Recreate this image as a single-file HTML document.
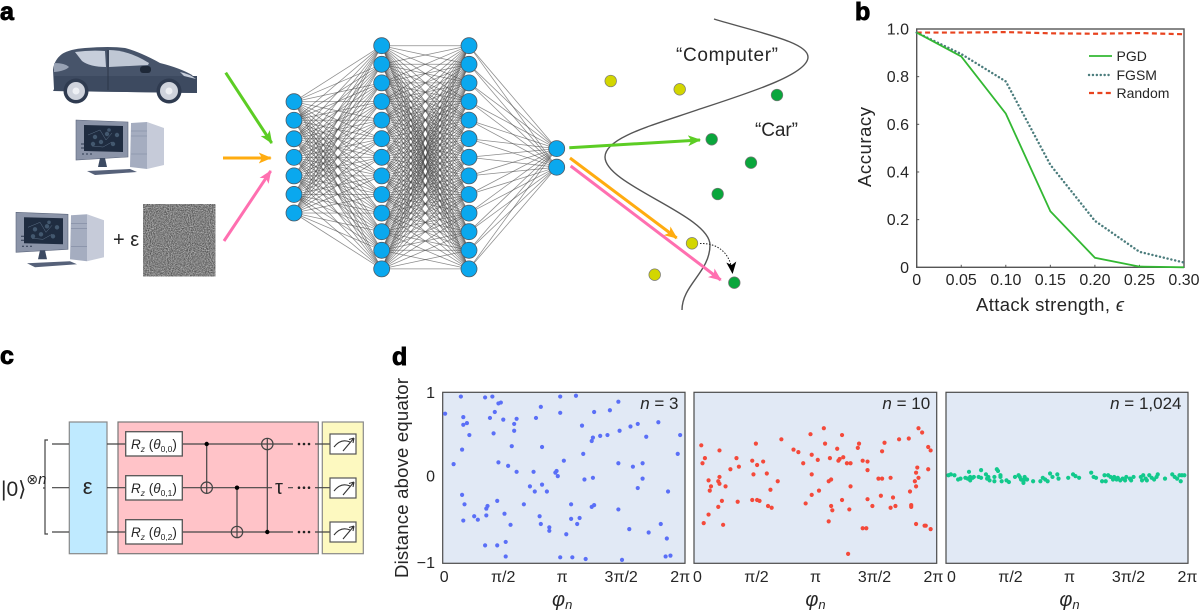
<!DOCTYPE html>
<html lang="en">
<head>
<meta charset="utf-8">
<title>Adversarial attacks on classical and quantum classifiers</title>
<style>
html,body{margin:0;padding:0;background:#fff;width:1200px;height:612px;overflow:hidden}
svg{display:block}
text{font-family:"Liberation Sans",sans-serif;fill:#262626}
.lab{font-weight:bold;font-size:25px;fill:#000;stroke:#000;stroke-width:.9px}
.tick{font-size:16px}
.axis{font-size:18.5px}
</style>
</head>
<body>
<svg id="fig" xmlns="http://www.w3.org/2000/svg" width="1200" height="612" viewBox="0 0 1200 612">
<defs>
<filter id="noise" x="0" y="0" width="1" height="1" color-interpolation-filters="sRGB">
<feTurbulence type="fractalNoise" baseFrequency="0.95" numOctaves="3" seed="3"/>
<feColorMatrix type="matrix" values="0.75 0 0 0 .13 0.75 0 0 0 .13 0.75 0 0 0 .13 0 0 0 0 1"/>
<feGaussianBlur stdDeviation="0.35"/>
</filter>
<marker id="ah-green" markerUnits="userSpaceOnUse" viewBox="0 0 12 10" refX="11" refY="5" markerWidth="13" markerHeight="11" orient="auto"><path d="M0 0L12 5L0 10L3 5Z" fill="#5ccd24"/></marker>
<marker id="ah-orange" markerUnits="userSpaceOnUse" viewBox="0 0 12 10" refX="11" refY="5" markerWidth="13" markerHeight="11" orient="auto"><path d="M0 0L12 5L0 10L3 5Z" fill="#ffac10"/></marker>
<marker id="ah-pink" markerUnits="userSpaceOnUse" viewBox="0 0 12 10" refX="11" refY="5" markerWidth="13" markerHeight="11" orient="auto"><path d="M0 0L12 5L0 10L3 5Z" fill="#ff6fb0"/></marker>
<marker id="ah-black" markerUnits="userSpaceOnUse" viewBox="0 0 12 10" refX="11" refY="5" markerWidth="12" markerHeight="10" orient="auto"><path d="M0 0L12 5L0 10L3 5Z" fill="#000"/></marker>
<g id="computer">
<polygon points="76,120 128,122 128,157 76,160" fill="#8b94a8" stroke="#5c667c" stroke-width=".6"/>
<polygon points="84,125 123,126 123,152 84,151" fill="#1f2c40"/>
<g fill="#43586f"><circle cx="95" cy="137" r="2.2"/><circle cx="101" cy="142" r="2.2"/><circle cx="107" cy="134" r="2.2"/><circle cx="113" cy="144" r="2.2"/><circle cx="117" cy="135" r="2.2"/><circle cx="93" cy="144" r="2.2"/><circle cx="109" cy="130" r="1.8"/></g>
<path d="M88 135L100 130L106 140L112 133M92 146L103 147L112 142" fill="none" stroke="#5d7188" stroke-width=".5"/>
<path d="M81 144h3M81 148h3M82 154h2M86 154h2M90 154h2" stroke="#2e3a50" stroke-width="1"/>
<polygon points="100,158 105,158 107,167 98,167" fill="#3c4a62"/>
<polygon points="87,171 130,169 137,172 95,175" fill="#566179"/>
<polygon points="131,123 147,122 147,169 130,167" fill="#a5adc0"/>
<polygon points="147,122 164,128 164,165 147,169" fill="#c6cbd9"/>
<path d="M131 131h16M131 136h16M131 154h16" stroke="#7f88a0" stroke-width=".6"/>
</g>
<g id="meter">
<rect x="0" y="0" width="26" height="20" fill="#fff" stroke="#555" stroke-width="1.2"/>
<path d="M4 13Q11 4 20 8" fill="none" stroke="#333" stroke-width="1.1"/>
<path d="M13 17L24 4M24 4l-5 1.5M24 4l-1 5" fill="none" stroke="#333" stroke-width="1.1"/>
</g>
</defs>

<text class="lab" x="0" y="20">a</text>
<text class="lab" x="855" y="20">b</text>
<text class="lab" x="0" y="364">c</text>
<text class="lab" x="392" y="365">d</text>

<g>
<path d="M54 89L53 70Q54 60 62 54Q70 49 85 48Q110 46 125 48Q140 52 160 63Q180 68 192 75Q197 80 197 93L53 91Z" fill="#47546a"/>
<path d="M54 76L197 76V93L54 91Z" fill="#3d4a60"/>
<path d="M75 52Q90 50 105 51L106 67Q90 67 82 61Z" fill="#c7cedb"/>
<path d="M109 50Q128 50 149 63L148 65L109 67Z" fill="#bfc7d4"/>
<path d="M54 63Q65 63 69 67Q65 71 54 72Z" fill="#98a2b4"/>
<rect x="140" y="66" width="11" height="7" rx="3" fill="#1e2838"/>
<path d="M180 72Q190 74 196 79L184 76Z" fill="#c9d0dc"/>
<path d="M108 50V90" stroke="#2c3648" stroke-width="1"/>
<circle cx="76" cy="91" r="12.5" fill="#2f3b50"/><circle cx="76" cy="91" r="9" fill="#cfd3dc"/><circle cx="76" cy="91" r="3.5" fill="#eef0f4"/>
<circle cx="169" cy="91" r="12.5" fill="#2f3b50"/><circle cx="169" cy="91" r="9" fill="#cfd3dc"/><circle cx="169" cy="91" r="3.5" fill="#eef0f4"/>
</g>
<use href="#computer"/>
<use href="#computer" transform="translate(-60,92.3)"/>
<text x="113" y="246" font-size="20">+ ε</text>
<rect x="143" y="204" width="72.5" height="72.5" filter="url(#noise)"/>

<g fill="none" stroke-width="3">
<line x1="225.7" y1="72.7" x2="271.7" y2="143" stroke="#5ccd24" marker-end="url(#ah-green)"/>
<line x1="223" y1="158" x2="270.7" y2="158" stroke="#ffac10" marker-end="url(#ah-orange)"/>
<line x1="224" y1="241" x2="270.7" y2="171" stroke="#ff6fb0" marker-end="url(#ah-pink)"/>
</g>

<g id="network"></g>

<path d="M714 19C760 33 808 42 808 57C808 75 745 94 697 110C650 126 605 138 605 157C605 185 710 215 710 245C710 272 682 285 682 310" fill="none" stroke="#555" stroke-width="1.4"/>
<text x="676" y="61" font-size="19" textLength="102">“Computer”</text>
<text x="755" y="136" font-size="19" textLength="43">“Car”</text>
<g stroke-width="3">
<line x1="569.3" y1="147.7" x2="700" y2="140" stroke="#5ccd24" marker-end="url(#ah-green)"/>
<line x1="570" y1="158" x2="676.7" y2="238" stroke="#ffac10" marker-end="url(#ah-orange)"/>
<line x1="570.7" y1="166" x2="720.7" y2="280" stroke="#ff6fb0" marker-end="url(#ah-pink)"/>
</g>
<g stroke="#777" stroke-width=".7">
<g fill="#d3d600">
<circle cx="610.7" cy="81" r="5.8"/><circle cx="679.7" cy="89.3" r="5.8"/><circle cx="692" cy="243.3" r="5.8"/><circle cx="654.7" cy="274.7" r="5.8"/>
</g>
<g fill="#0aa63c">
<circle cx="777" cy="95" r="5.8"/><circle cx="711.7" cy="139.3" r="5.8"/><circle cx="751" cy="162.7" r="5.8"/><circle cx="717.7" cy="194" r="5.8"/><circle cx="734.3" cy="282.7" r="5.8"/>
</g>
</g>
<path d="M700 243.5C715 243 730 250 732.5 273" fill="none" stroke="#222" stroke-width="1" stroke-dasharray="1.5 1.5" marker-end="url(#ah-black)"/>

<g id="chart-b"></g>

<g>
<rect x="69.3" y="422" width="37.7" height="131.7" fill="#bfeaff" stroke="#888" stroke-width="1.2"/>
<rect x="118" y="422" width="200.3" height="131.7" fill="#ffc3c8" stroke="#777" stroke-width="1.2"/>
<rect x="322.3" y="422" width="41" height="131.7" fill="#fdf9c0" stroke="#888" stroke-width="1.2"/>
<g stroke="#444" stroke-width="1.2" fill="none">
<path d="M52 444H69M107 444H126M182 444H293M315 444H330"/>
<path d="M52 487.7H69M107 487.7H126M182 487.7H272M288 487.7H293M315 487.7H330"/>
<path d="M52 532H69M107 532H126M182 532H293M315 532H330"/>
<path d="M48 440H45V534H48M43 488H45"/>
<path d="M206.7 444V493.4M237 487.7V537.7M267.3 532V438.3"/>
<circle cx="206.7" cy="487.7" r="5.7"/><circle cx="237" cy="532" r="5.7"/><circle cx="267.3" cy="444" r="5.7"/>
</g>
<g fill="#000"><circle cx="206.7" cy="444" r="2.2"/><circle cx="237" cy="487.7" r="2.2"/><circle cx="267.3" cy="532" r="2.2"/></g>
<g fill="#fff" stroke="#555" stroke-width="1.3">
<rect x="125.7" y="431.7" width="56.6" height="24.3"/><rect x="125.7" y="475.7" width="56.6" height="24.3"/><rect x="125.7" y="519.7" width="56.6" height="24.3"/>
</g>
<text x="131" y="449" font-size="13.5"><tspan font-style="italic">R</tspan><tspan font-size="8.5" font-style="italic" dy="3">z</tspan><tspan dy="-3"> (</tspan><tspan font-style="italic">θ</tspan><tspan font-size="8.5" dy="3">0,0</tspan><tspan dy="-3">)</tspan></text>
<text x="131" y="493" font-size="13.5"><tspan font-style="italic">R</tspan><tspan font-size="8.5" font-style="italic" dy="3">z</tspan><tspan dy="-3"> (</tspan><tspan font-style="italic">θ</tspan><tspan font-size="8.5" dy="3">0,1</tspan><tspan dy="-3">)</tspan></text>
<text x="131" y="537" font-size="13.5"><tspan font-style="italic">R</tspan><tspan font-size="8.5" font-style="italic" dy="3">z</tspan><tspan dy="-3"> (</tspan><tspan font-style="italic">θ</tspan><tspan font-size="8.5" dy="3">0,2</tspan><tspan dy="-3">)</tspan></text>
<text x="87.7" y="494" font-size="22" text-anchor="middle">ε</text>
<text x="279" y="494" font-size="20" text-anchor="middle">τ</text>
<g fill="#222">
<circle cx="299" cy="444" r="1.3"/><circle cx="304" cy="444" r="1.3"/><circle cx="309" cy="444" r="1.3"/>
<circle cx="299" cy="487.7" r="1.3"/><circle cx="304" cy="487.7" r="1.3"/><circle cx="309" cy="487.7" r="1.3"/>
<circle cx="299" cy="532" r="1.3"/><circle cx="304" cy="532" r="1.3"/><circle cx="309" cy="532" r="1.3"/>
</g>
<use href="#meter" x="330" y="434"/>
<use href="#meter" x="330" y="478"/>
<use href="#meter" x="330" y="522"/>
<text x="1" y="496" font-size="21">|0⟩<tspan dy="-12" font-size="14">⊗</tspan><tspan font-size="15" font-style="italic">n</tspan></text>
</g>

<g id="chart-d"></g>
</svg>

<script>
// Panel b data
var attackStrength = [0, 0.05, 0.10, 0.15, 0.20, 0.25, 0.30];
var pgdAccuracy = [0.985, 0.885, 0.645, 0.235, 0.04, 0.003, 0];
var fgsmAccuracy = [0.985, 0.895, 0.78, 0.43, 0.195, 0.065, 0.02];
var randomAccuracy = [0.985, 0.985, 0.987, 0.982, 0.98, 0.983, 0.978];
var xTickValues = [0, 0.05, 0.10, 0.15, 0.20, 0.25, 0.30];
var xTickLabels = ["0", "0.05", "0.10", "0.15", "0.20", "0.25", "0.30"];
var yTickValues = [0, 0.2, 0.4, 0.6, 0.8, 1];
var yTickLabels = ["0", "0.2", "0.4", "0.6", "0.8", "1.0"];

// Panel d data: phi in units of pi, distance above equator in [-1, 1]
var phiTickValues = [0, 0.5, 1, 1.5, 2];
var phiTickLabels = ["0", "π/2", "π", "3π/2", "2π"];
var distTickValues = [1, 0, -1];
var distTickLabels = ["1", "0", "−1"];
var phiN3 = [.02,.15,.35,.41,.46,.48,.43,.39,.17,.17,.20,.22,.42,.50,.61,.59,.59,.77,.81,.97,1.10,.97,1.45,1.25,1.38,1.15,1.46,1.55,1.61,1.78,1.68,1.96,1.94,1.36,1.30,1.24,1.23,.82,.57,.16,1.16,1.00,.09,.46,.54,.61,.75,.94,.93,.95,1.45,1.57,1.65,1.65,1.61,1.86,1.24,1.17,.72,.82,.76,.86,.16,.18,.45,.37,.36,.67,1.06,1.25,1.23,1.45,.26,.29,.17,.36,.51,.80,.81,.56,1.06,1.13,1.11,.88,.88,1.02,1.54,1.70,1.80,1.85,.35,.45,.52,.52,.97,1.07,1.18,1.48,1.84,1.88];
var distN3 = [.75,.95,.94,.95,.87,.88,.77,.70,.71,.62,.64,.50,.52,.68,.69,.63,.55,.70,.83,.95,.96,.76,.89,.77,.79,.61,.55,.60,.63,.65,.48,.50,.28,.50,.49,.47,.43,.36,.37,.33,.28,.20,.16,.18,.14,.07,.07,.08,.06,.02,.17,.13,.17,-.01,-.12,-.16,0,-.02,-.10,-.08,-.16,-.16,-.20,-.31,-.27,-.33,-.36,-.31,-.31,-.32,-.34,-.37,-.45,-.49,-.50,-.44,-.42,-.45,-.54,-.55,-.48,-.47,-.54,-.58,-.62,-.66,-.60,-.64,-.54,-.71,-.79,-.79,-.75,-.92,-.93,-.93,-.95,-.96,-.92,-.91];
var phiN10 = [.06,.07,.09,.12,.14,.13,.20,.21,.21,.26,.21,.30,.35,.37,.48,.51,.57,.52,.49,.60,.69,.63,.72,.82,.86,.90,.96,.97,1.02,.97,1.07,1.08,1.12,1.18,1.22,1.20,1.19,1.23,1.26,1.29,1.36,1.35,1.39,1.43,1.43,1.57,1.55,1.69,1.77,1.85,1.88,1.93,1.95,1.84,1.83,1.85,1.93,1.82,1.83,1.78,1.62,1.52,1.55,1.11,1.13,1.29,1.03,.97,.92,.23,.20,.12,.08,.24,.36,.48,.52,.54,.61,.64,1.22,1.13,1.14,1.28,1.11,1.43,1.47,1.54,1.64,1.62,1.66,1.79,1.79,1.39,1.42,1.83,1.90,1.91,1.95,1.27];
var distN10 = [.38,.17,.23,-.03,-.10,-.15,-.04,-.07,.01,-.10,.32,.10,.23,.13,.20,.40,.19,.15,.04,.05,-.04,-.14,.45,.33,.30,.17,.51,.27,.21,.04,.58,.40,.23,.34,.50,.22,.20,.24,.17,.17,.40,.35,.20,.19,.09,.41,.31,.45,.46,.58,.53,.36,.32,.12,.06,0,.10,-.04,-.10,-.16,0,-.01,-.01,-.04,-.02,-.10,-.15,-.20,-.30,-.27,-.34,-.43,-.53,-.55,-.28,-.26,-.26,-.27,-.33,-.35,-.26,-.33,-.38,-.37,-.51,-.25,-.33,-.21,-.23,-.35,-.33,-.32,-.34,-.59,-.59,-.54,-.56,-.56,-.60,-.89];
var phiN1024 = [.02,.04,.07,.10,.12,.16,.18,.19,.20,.20,.22,.23,.27,.29,.29,.33,.34,.35,.36,.40,.40,.42,.43,.45,.45,.46,.50,.52,.57,.60,.61,.62,.64,.65,.65,.67,.64,.72,.78,.80,.82,.84,.86,.88,.92,.93,1.01,1.05,1.07,1.10,1.20,1.22,1.24,1.29,1.31,1.32,1.34,1.36,1.38,1.39,1.41,1.42,1.44,1.46,1.48,1.49,1.52,1.53,1.55,1.61,1.62,1.63,1.65,1.66,1.68,1.70,1.72,1.75,1.74,1.81,1.87,1.89,1.91,1.93,1.94,1.95,1.97];
var distN1024 = [.03,.04,.03,-.02,-.01,0,-.01,.07,.01,-.03,0,.01,.01,.09,0,.04,-.01,.01,-.03,.01,-.04,.10,.08,.03,.01,-.04,-.03,-.05,.01,.03,.01,-.02,-.04,-.01,.01,-.02,-.06,-.04,-.04,0,-.02,-.04,.05,.01,.04,-.01,0,.04,.02,0,.06,.01,0,-.04,.03,-.04,.03,.01,-.02,.01,-.02,0,-.03,-.01,-.03,.01,-.01,-.03,.01,.01,-.03,.03,-.01,-.03,.03,0,-.02,.04,.01,-.01,.04,.01,-.01,.03,-.04,.03,.03];
var panelLabels = ["3", "10", "1,024"];

// Network structure: number of nodes per layer
var layerSizes = [7, 13, 13, 2];
var layerNames = ["input", "hidden-1", "hidden-2", "output"];

var NS = "http://www.w3.org/2000/svg";
function make(tag, parent, attrs, txt) {
  var el = document.createElementNS(NS, tag);
  for (var k in attrs) el.setAttribute(k, attrs[k]);
  if (txt !== undefined) el.textContent = txt;
  parent.appendChild(el);
  return el;
}

// ---------- Neural network ----------
(function () {
  var net = document.getElementById("network");
  var layerX = [294, 381.7, 469, 556.7];
  var layerTop = [101.7, 45.7, 45.7, 148.6];
  var layerStep = [18.55, 18.6, 18.6, 18.6];
  function ny(l, i) { return layerTop[l] + i * layerStep[l]; }
  var edges = make("g", net, {stroke: "#3f3f3f", "stroke-width": 0.75, "stroke-opacity": 0.6});
  
  
  for (var l = 0; l < layerSizes.length - 1; l++) {
    for (var a = 0; a < layerSizes[l]; a++) {
      for (var b = 0; b < layerSizes[l + 1]; b++) {
        make("line", edges, {x1: layerX[l], y1: ny(l, a), x2: layerX[l + 1], y2: ny(l + 1, b)});
      }
    }
  }
  for (var m = 0; m < layerSizes.length; m++) {
    var g = make("g", net, {fill: "#0aa8ee", stroke: "#4d5a66", "stroke-width": 0.8});
    
    
    for (var n = 0; n < layerSizes[m]; n++) {
      var c = make("circle", g, {cx: layerX[m], cy: ny(m, n), r: 8});
      
      
    }
  }
})();

// ---------- Panel b ----------
(function () {
  var root = document.getElementById("chart-b");
  var L = 916.7, R = 1184, T = 29, B = 267.3;
  function xs(v) { return L + (v / 0.30) * (R - L); }
  function ys(v) { return B - v * (B - T); }
  var frame = make("rect", root, {x: L, y: T, width: R - L, height: B - T, fill: "none", stroke: "#555", "stroke-width": 1.4});
  
  
  xTickValues.forEach(function (v, i) {
    var t = make("line", root, {x1: xs(v), x2: xs(v), y1: B, y2: B - 2.5, stroke: "#555", "stroke-width": 1});
    
    
    var lb = make("text", root, {x: xs(v), y: 285, "text-anchor": "middle", "class": "tick"}, xTickLabels[i]);
    
    
  });
  yTickValues.forEach(function (v, i) {
    var t = make("line", root, {x1: L, x2: L + 2.5, y1: ys(v), y2: ys(v), stroke: "#555", "stroke-width": 1});
    
    
    var lb = make("text", root, {x: 909, y: ys(v) + 5.5, "text-anchor": "end", "class": "tick"}, yTickLabels[i]);
    
    
  });
  function pts(vals) { return vals.map(function (v, i) { return xs(attackStrength[i]) + "," + ys(v); }).join(" "); }
  var rnd = make("polyline", root, {points: pts(randomAccuracy), fill: "none", stroke: "#e8431f", "stroke-width": 2.2, "stroke-dasharray": "5 3.4"});
  
  
  var fg = make("polyline", root, {points: pts(fgsmAccuracy), fill: "none", stroke: "#4c7d7d", "stroke-width": 2.4, "stroke-dasharray": "0.1 3.8", "stroke-linecap": "round"});
  
  
  var pg = make("polyline", root, {points: pts(pgdAccuracy), fill: "none", stroke: "#33b833", "stroke-width": 1.8});
  
  
  var xl = make("text", root, {x: 976, y: 311, "class": "axis", textLength: 148}, "Attack strength, ");
  
  
  make("tspan", xl, {"font-style": "italic"}, "ϵ");
  var yl = make("text", root, {transform: "translate(871,147) rotate(-90)", "text-anchor": "middle", "class": "axis", textLength: 80}, "Accuracy");
  
  
  var leg = make("g", root, {});
  
  
  var legText = ["PGD", "FGSM", "Random"];
  var legLineY = [56, 75, 93];
  var legStyle = [
    {stroke: "#33b833", "stroke-width": 1.8},
    {stroke: "#4c7d7d", "stroke-width": 2.4, "stroke-dasharray": "0.1 3.8", "stroke-linecap": "round"},
    {stroke: "#e8431f", "stroke-width": 2.2, "stroke-dasharray": "5 3.4"}
  ];
  legText.forEach(function (s, i) {
    var a = {x1: 1089, x2: 1112, y1: legLineY[i], y2: legLineY[i]};
    for (var k in legStyle[i]) a[k] = legStyle[i][k];
    var ln = make("line", leg, a);
    
    
    var tx = make("text", leg, {x: 1116.5, y: legLineY[i] + 5, "font-size": 14}, s);
    
    
  });
})();

// ---------- Panel d ----------
(function () {
  var root = document.getElementById("chart-d");
  var T = 392.3, B = 563.3;
  var panels = [
    {x0: 442.7, x1: 685, phi: phiN3, dist: distN3, color: "#5a6ff7", inset: 1.5},
    {x0: 694, x1: 936.7, phi: phiN10, dist: distN10, color: "#f4493a", inset: 3.5},
    {x0: 946, x1: 1188, phi: phiN1024, dist: distN1024, color: "#12c98c", inset: 5.5}
  ];
  function ys(d) { return (T + B) / 2 - d * (B - T) / 2; }
  panels.forEach(function (p, idx) {
    var g = make("g", root, {});
    
    
    var bg = make("rect", g, {x: p.x0, y: T, width: p.x1 - p.x0, height: B - T, fill: "#e1e9f5", stroke: "#4a4a4a", "stroke-width": 1.2});
    
    
    function xs(v) { return p.x0 + v / 2 * (p.x1 - p.x0); }
    function tx(v) { return p.x0 + p.inset + v / 2 * 236; }
    p.phi.forEach(function (v, i) {
      var c = make("circle", g, {cx: xs(v), cy: ys(p.dist[i]), r: 2.1, fill: p.color});
      
      
    });
    phiTickValues.forEach(function (v, i) {
      var lb = make("text", g, {x: tx(v), y: 582, "text-anchor": "middle", "font-size": 16}, phiTickLabels[i]);
      
      
    });
    var n = make("text", g, {x: p.x1 - 6.5, y: 409, "text-anchor": "end", "font-size": 17});
    
    
    make("tspan", n, {"font-style": "italic"}, "n");
    make("tspan", n, {}, " = " + panelLabels[idx]);
    var t = make("text", g, {x: tx(1) , y: 606, "text-anchor": "middle", "font-size": 20, "font-style": "italic"}, "φ");
    
    
    make("tspan", t, {"font-size": 13, dy: 3}, "n");
  });
  var ty = [398, 481.5, 568];
  distTickValues.forEach(function (v, i) {
    var lb = make("text", root, {x: 435, y: ty[i], "text-anchor": "end", "font-size": 16}, distTickLabels[i]);
    
    
  });
  var yl = make("text", root, {transform: "translate(408,478) rotate(-90)", "text-anchor": "middle", "font-size": 18.5, textLength: 200}, "Distance above equator");
  
  
})();
</script>
</body>
</html>
